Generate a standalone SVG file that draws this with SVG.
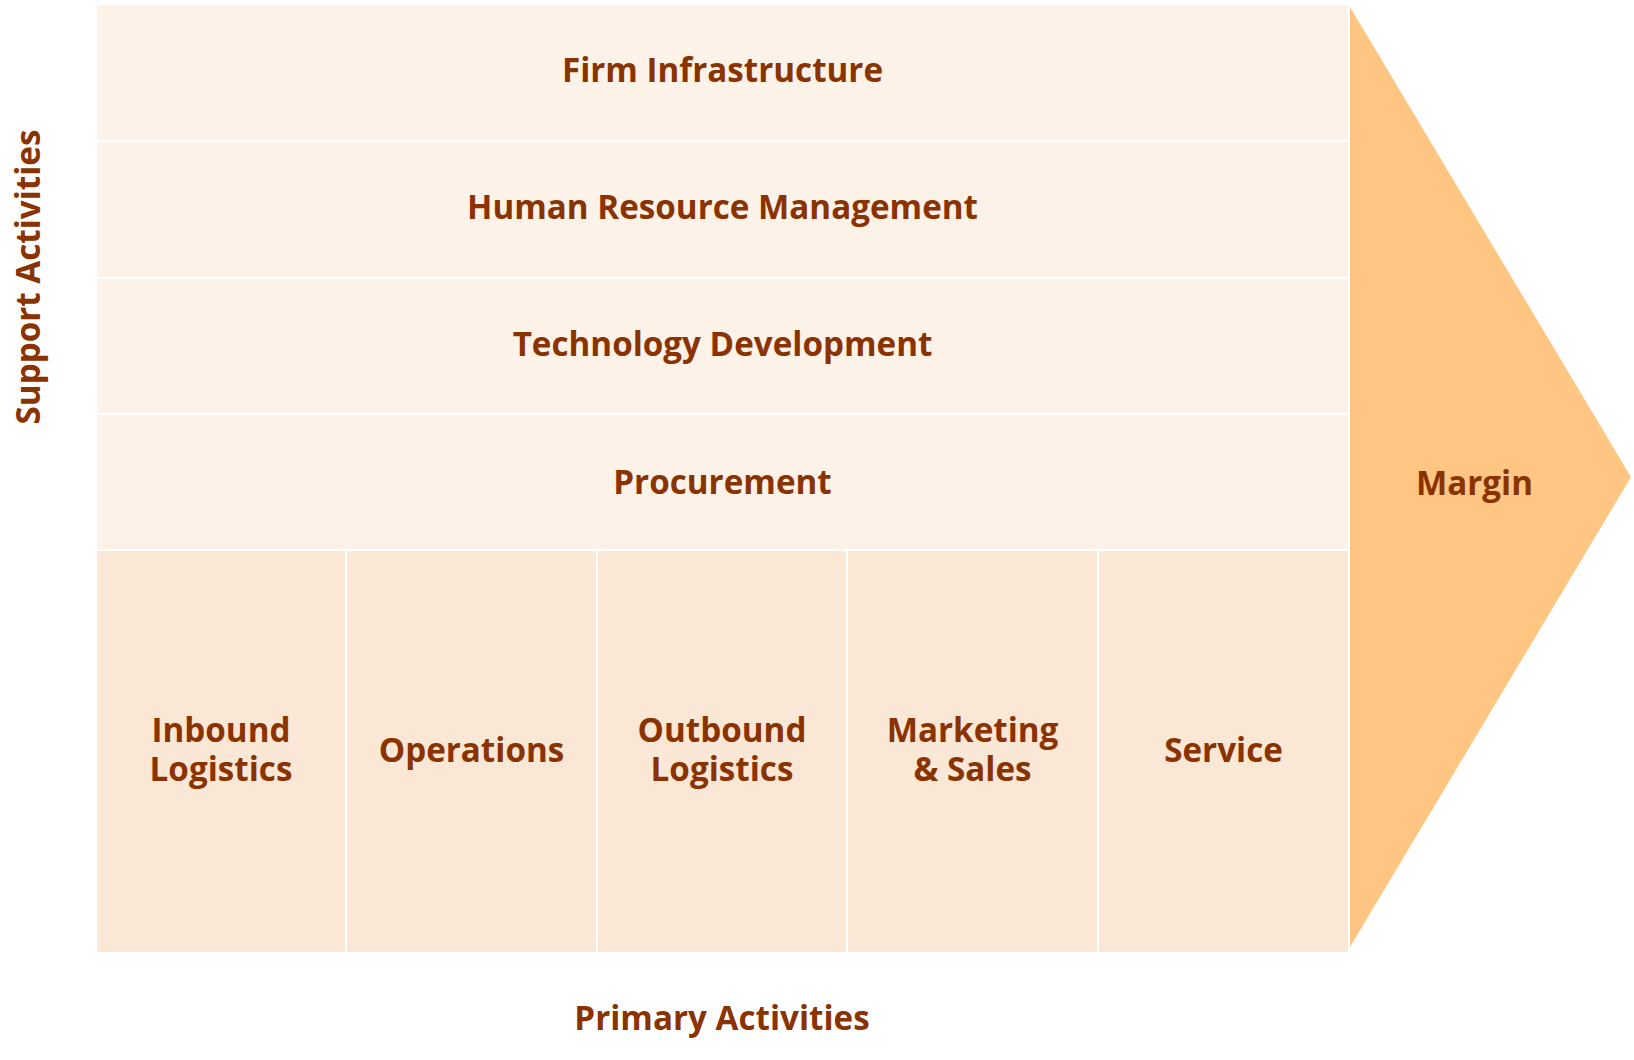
<svg xmlns="http://www.w3.org/2000/svg" width="1634" height="1060" viewBox="0 0 1634 1060">
<style>
.sup{fill:#FDF2E8}
.pri{fill:#FBE7D5}
.mar{fill:#FFC582}
text{font-family:"Open Sans","Noto Sans","Liberation Sans",sans-serif;font-weight:700;font-size:33.2px;fill:#8A3300;text-anchor:middle}
</style>
<rect width="1634" height="1060" fill="#FFFFFF"/>
<g id="firm-infrastructure"><rect class="sup" x="97" y="5" width="1251" height="135"/><text x="722.5" y="81.5">Firm Infrastructure</text></g>
<g id="human-resource-management"><rect class="sup" x="97" y="142" width="1251" height="135"/><text x="722.5" y="219">Human Resource Management</text></g>
<g id="technology-development"><rect class="sup" x="97" y="279" width="1251" height="134"/><text x="722.5" y="356">Technology Development</text></g>
<g id="procurement"><rect class="sup" x="97" y="415" width="1251" height="134"/><text x="722.5" y="494">Procurement</text></g>
<g id="inbound-logistics"><rect class="pri" x="97" y="551" width="248" height="401"/><text x="221" y="742">Inbound<tspan x="221" dy="39">Logistics</tspan></text></g>
<g id="operations"><rect class="pri" x="347" y="551" width="249" height="401"/><text x="471.5" y="762">Operations</text></g>
<g id="outbound-logistics"><rect class="pri" x="598" y="551" width="248" height="401"/><text x="722" y="742">Outbound<tspan x="722" dy="39">Logistics</tspan></text></g>
<g id="marketing-sales"><rect class="pri" x="848" y="551" width="249" height="401"/><text x="972.5" y="742">Marketing<tspan x="972.5" dy="39">&amp; Sales</tspan></text></g>
<g id="service"><rect class="pri" x="1099" y="551" width="249" height="401"/><text x="1223.5" y="762">Service</text></g>
<g id="margin"><polygon class="mar" points="1350,7 1631,477 1350,947"/><text x="1474.5" y="494.5">Margin</text></g>
<g id="support-activities-label"><text transform="translate(40,277) rotate(-90)">Support Activities</text></g>
<g id="primary-activities-label"><text x="722" y="1030">Primary Activities</text></g>
<g id="connectors"></g>
</svg>
